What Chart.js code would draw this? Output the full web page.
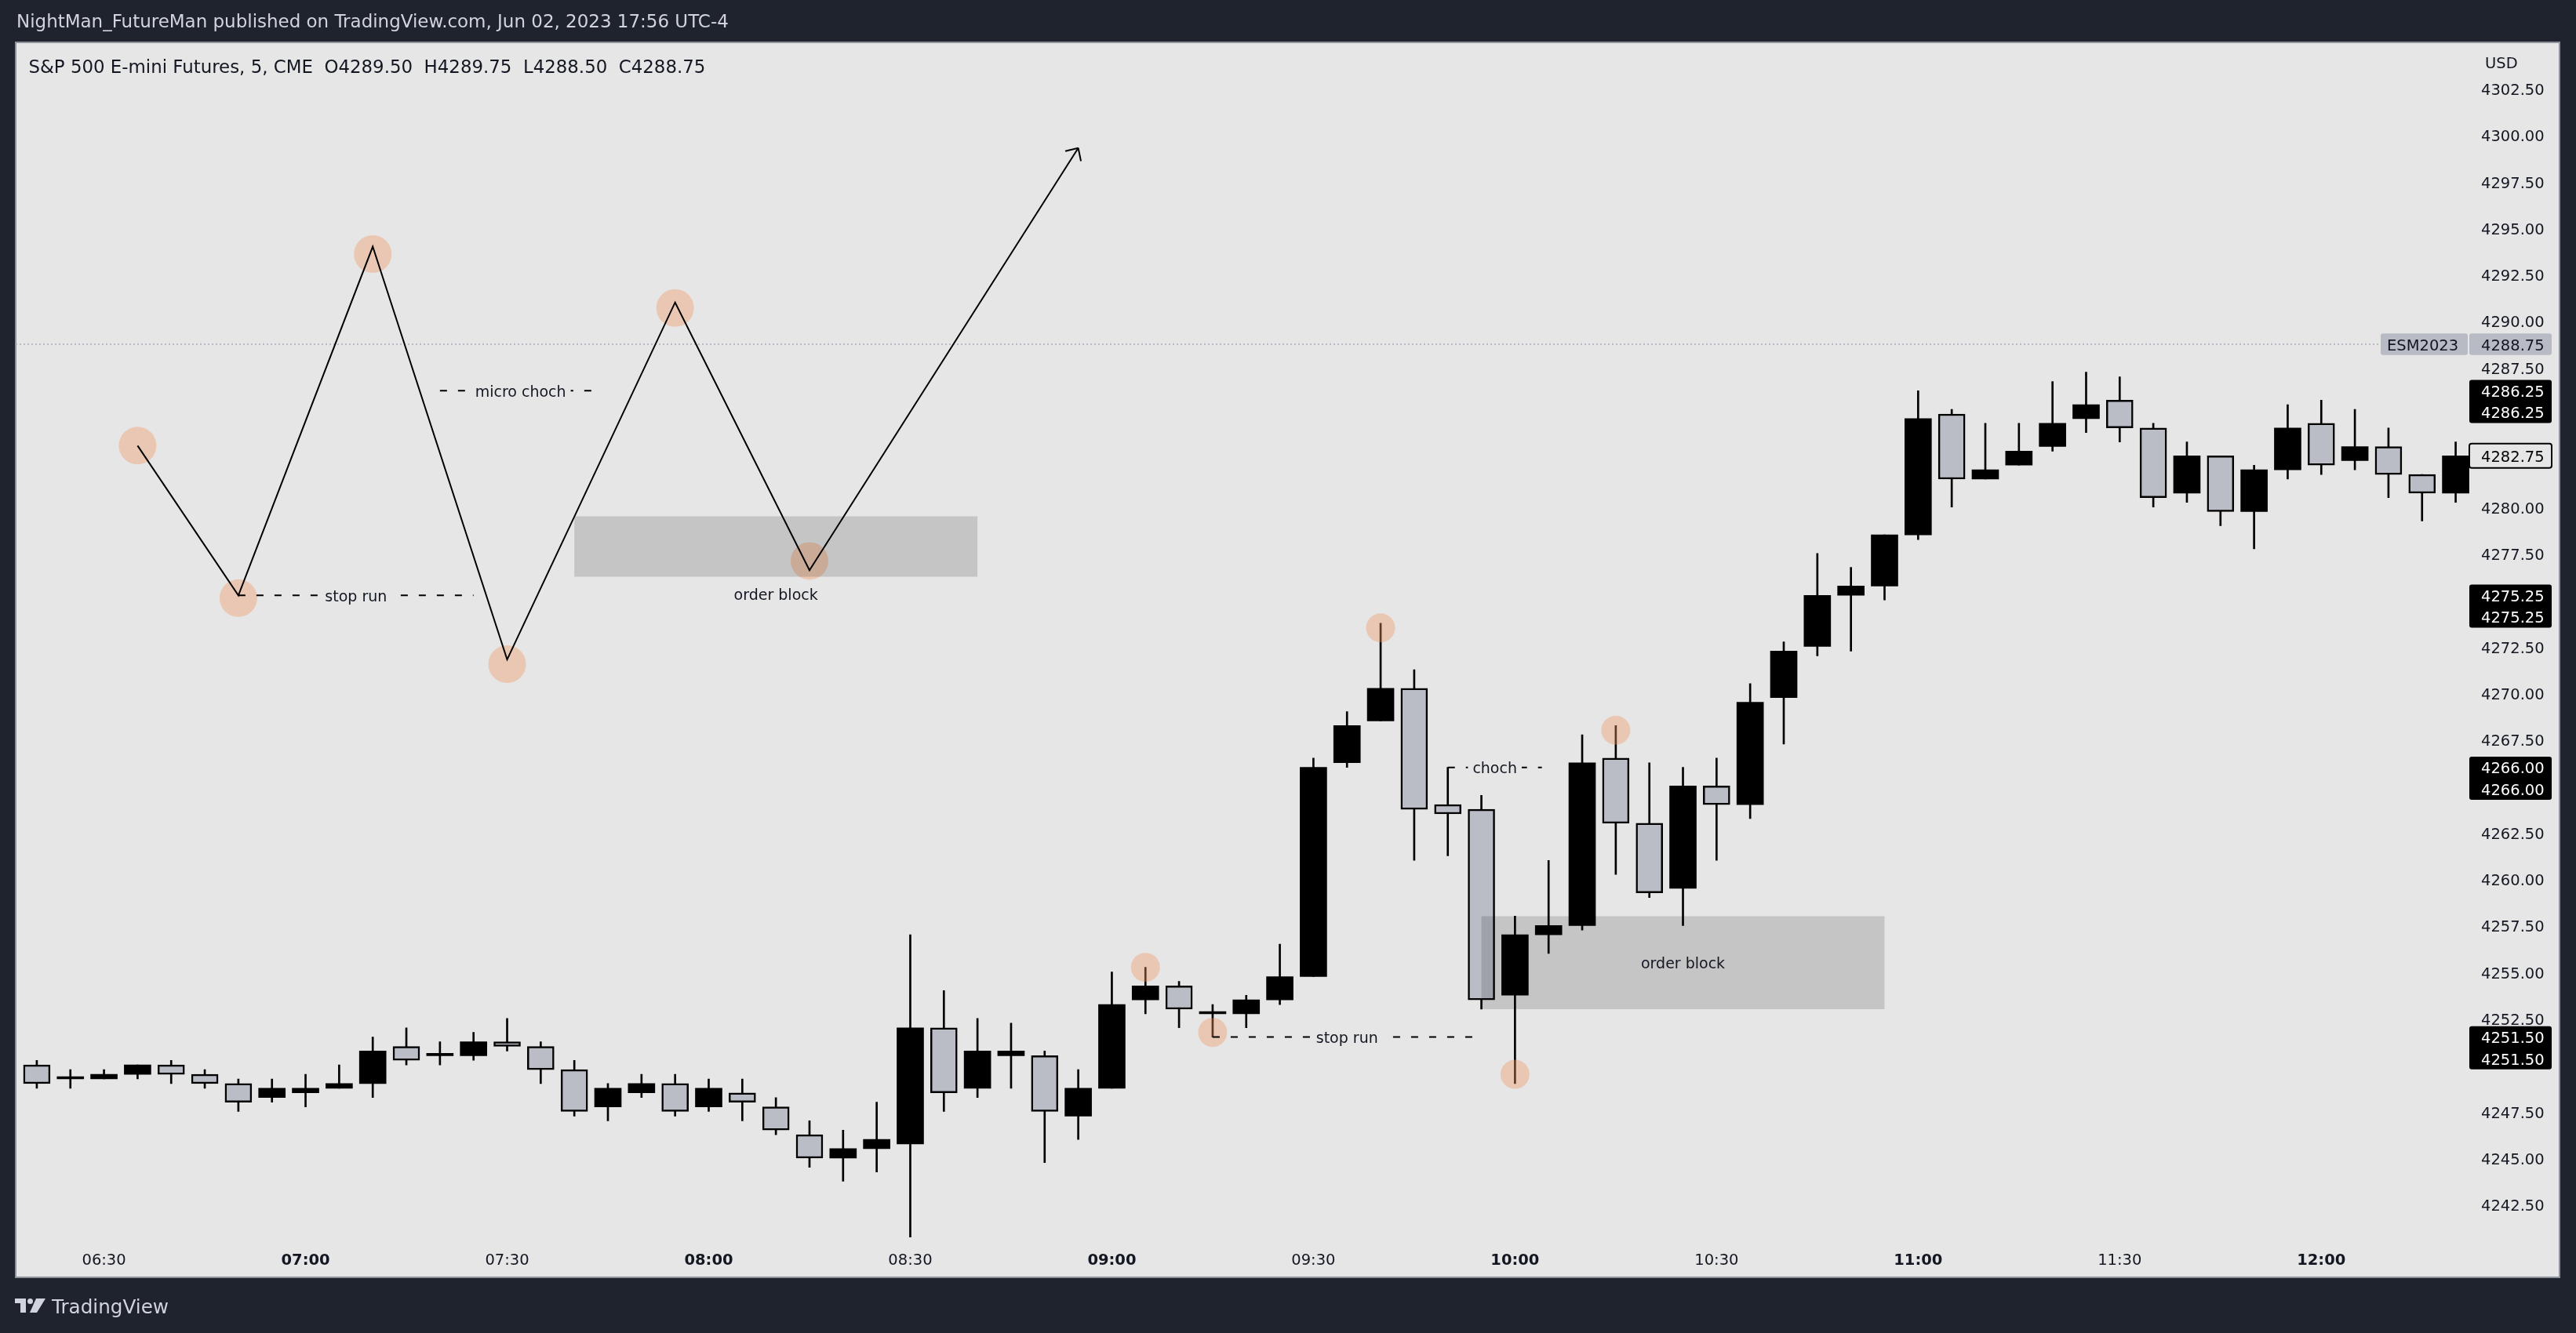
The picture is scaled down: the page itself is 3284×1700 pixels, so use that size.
<!DOCTYPE html>
<html>
<head>
<meta charset="utf-8">
<title>ES 5m - order block</title>
<script src="https://cdn.jsdelivr.net/npm/chart.js@4.4.0/dist/chart.umd.min.js"></script>
<style>
  html, body { margin: 0; padding: 0; background: #1f232e; }
  canvas { display: block; }
</style>
</head>
<body>
<canvas id="chart" width="3284" height="1700"></canvas>
<script>
// 5 minute bars, 06:20 - 12:20
const times = [
  "06:20", "06:25", "06:30", "06:35", "06:40", "06:45", "06:50", "06:55",
  "07:00", "07:05", "07:10", "07:15", "07:20", "07:25", "07:30", "07:35", "07:40", "07:45", "07:50", "07:55",
  "08:00", "08:05", "08:10", "08:15", "08:20", "08:25", "08:30", "08:35", "08:40", "08:45", "08:50", "08:55",
  "09:00", "09:05", "09:10", "09:15", "09:20", "09:25", "09:30", "09:35", "09:40", "09:45", "09:50", "09:55",
  "10:00", "10:05", "10:10", "10:15", "10:20", "10:25", "10:30", "10:35", "10:40", "10:45", "10:50", "10:55",
  "11:00", "11:05", "11:10", "11:15", "11:20", "11:25", "11:30", "11:35", "11:40", "11:45", "11:50", "11:55",
  "12:00", "12:05", "12:10", "12:15", "12:20"
];

const open = [
  4250.00, 4249.25, 4249.25, 4249.50, 4250.00, 4249.50, 4249.00, 4248.25,
  4248.50, 4248.75, 4249.00, 4251.00, 4250.50, 4250.50, 4251.25, 4251.00, 4249.75, 4247.75, 4248.50, 4249.00,
  4247.75, 4248.50, 4247.75, 4246.25, 4245.00, 4245.50, 4245.75, 4252.00, 4248.75, 4250.50, 4250.50, 4247.25,
  4248.75, 4253.50, 4254.25, 4252.75, 4252.75, 4253.50, 4254.75, 4266.25, 4268.50, 4270.25, 4264.00, 4263.75,
  4253.75, 4257.00, 4257.50, 4266.50, 4263.00, 4259.50, 4265.00, 4264.00, 4269.75, 4272.50, 4275.25, 4275.75,
  4278.50, 4285.00, 4281.50, 4282.25, 4283.25, 4284.75, 4285.75, 4284.25, 4280.75, 4282.75, 4279.75, 4282.00,
  4284.50, 4282.50, 4283.25, 4281.75, 4280.75
];
const high = [
  4250.25, 4249.75, 4249.75, 4250.00, 4250.25, 4249.75, 4249.25, 4249.25,
  4249.50, 4250.00, 4251.50, 4252.00, 4251.25, 4251.75, 4252.50, 4251.25, 4250.25, 4249.00, 4249.50, 4249.50,
  4249.25, 4249.25, 4248.25, 4247.00, 4246.50, 4248.00, 4257.00, 4254.00, 4252.50, 4252.25, 4250.75, 4249.75,
  4255.00, 4255.25, 4254.50, 4253.25, 4253.75, 4256.50, 4266.50, 4269.00, 4273.75, 4271.25, 4266.00, 4264.50,
  4258.00, 4261.00, 4267.75, 4268.25, 4266.25, 4266.00, 4266.50, 4270.50, 4272.75, 4277.50, 4276.75, 4278.50,
  4286.25, 4285.25, 4284.50, 4284.50, 4286.75, 4287.25, 4287.00, 4284.50, 4283.50, 4282.75, 4282.25, 4285.50,
  4285.75, 4285.25, 4284.25, 4281.75, 4283.50
];
const low = [
  4248.75, 4248.75, 4249.25, 4249.25, 4249.00, 4248.75, 4247.50, 4248.00,
  4247.75, 4248.75, 4248.25, 4250.00, 4250.00, 4250.25, 4250.75, 4249.00, 4247.25, 4247.00, 4248.25, 4247.25,
  4247.50, 4247.00, 4246.25, 4244.50, 4243.75, 4244.25, 4240.75, 4247.50, 4248.25, 4248.75, 4244.75, 4246.00,
  4248.75, 4252.75, 4252.00, 4251.50, 4252.00, 4253.25, 4254.75, 4266.00, 4268.50, 4261.00, 4261.25, 4253.00,
  4249.00, 4256.00, 4257.25, 4260.25, 4259.00, 4257.50, 4261.00, 4263.25, 4267.25, 4272.00, 4272.25, 4275.00,
  4278.25, 4280.00, 4281.50, 4282.25, 4283.00, 4284.00, 4283.50, 4280.00, 4280.25, 4279.00, 4277.75, 4281.50,
  4281.75, 4282.00, 4280.50, 4279.25, 4280.25
];
const close = [
  4249.00, 4249.25, 4249.50, 4250.00, 4249.50, 4249.00, 4248.00, 4248.75,
  4248.75, 4249.00, 4250.75, 4250.25, 4250.50, 4251.25, 4251.00, 4249.75, 4247.50, 4248.75, 4249.00, 4247.50,
  4248.75, 4248.00, 4246.50, 4245.00, 4245.50, 4246.00, 4252.00, 4248.50, 4250.75, 4250.75, 4247.50, 4248.75,
  4253.25, 4254.25, 4253.00, 4252.75, 4253.50, 4254.75, 4266.00, 4268.25, 4270.25, 4263.75, 4263.50, 4253.50,
  4257.00, 4257.50, 4266.25, 4263.00, 4259.25, 4265.00, 4264.00, 4269.50, 4272.25, 4275.25, 4275.75, 4278.50,
  4284.75, 4281.50, 4282.00, 4283.00, 4284.50, 4285.50, 4284.25, 4280.50, 4282.75, 4279.75, 4282.00, 4284.25,
  4282.25, 4283.25, 4281.75, 4280.75, 4282.75
];

// hand drawn swing sketch (top left)
const swingTimes = ["06:35", "06:50", "07:10", "07:30", "07:55", "08:15", "08:55"];
const swingPrices = [4283.3, 4275.25, 4294.0, 4271.8, 4291.0, 4276.6, 4299.3];
const swingMarkPrices = [4283.3, 4275.1, 4293.6, 4271.55, 4290.7, 4277.1];

// highlighted highs / lows on the candles
const pivotTimes = ["09:05", "09:15", "09:40", "10:00", "10:15"];
const pivotPrices = [4255.25, 4251.75, 4273.5, 4249.5, 4268.0];

// labelled horizontal levels
const levelText = ["micro choch", "stop run", "choch", "stop run"];
const levelFrom = ["07:20", "06:50", "09:50", "09:15"];
const levelTo = ["07:44", "07:25", "10:04", "09:55"];
const levelPrice = [4286.25, 4275.25, 4266.00, 4251.50];

// order blocks
const blockFrom = ["07:40", "09:55"];
const blockTo = ["08:40", "10:55"];
const blockLow = [4276.25, 4253.0];
const blockHigh = [4279.5, 4258.0];

const lastPrice = 4282.75;
const quotePrice = 4288.75;
const yMin = 4240.565;
const yMax = 4304.983;

const FONT = '"DejaVu Sans", sans-serif';
const INK = "#131722";
const NUDGE = 2.5; // DejaVu sits a little high with baseline "middle"

function toMinutes(t) {
  const [h, m] = t.split(":").map(Number);
  return h * 60 + m;
}
function barPos(t) {
  return (toMinutes(t) - toMinutes(times[0])) / 5;
}

function fitFont(ctx, text, width, weight) {
  ctx.font = `${weight || ""} 100px ${FONT}`;
  const w = ctx.measureText(text).width;
  return `${weight || ""} ${(100 * width / w).toFixed(2)}px ${FONT}`;
}

// dashed line with the text sitting in a gap in the middle
function dashedLevel(ctx, x1, x2, y, text) {
  ctx.font = `19px ${FONT}`;
  const tw = ctx.measureText(text).width;
  const cx = (x1 + x2) / 2;
  const gap = 6;
  ctx.save();
  ctx.beginPath();
  ctx.rect(x1 - 5, y - 20, x2 - x1 + 10, 40);
  ctx.rect(cx + tw / 2 + gap, y - 15, -(tw + 2 * gap), 30);
  ctx.clip("evenodd");
  ctx.strokeStyle = "#000";
  ctx.lineWidth = 2;
  ctx.setLineDash([9, 14]);
  ctx.beginPath();
  ctx.moveTo(x1, y);
  ctx.lineTo(x2, y);
  ctx.stroke();
  ctx.restore();
  ctx.fillStyle = INK;
  ctx.textAlign = "center";
  ctx.textBaseline = "middle";
  ctx.fillText(text, cx, y + NUDGE);
}

function tagBox(ctx, x, y, w, h, fill, stroke) {
  ctx.beginPath();
  ctx.roundRect(x, y, w, h, 3);
  if (fill) {
    ctx.fillStyle = fill;
    ctx.fill();
  }
  if (stroke) {
    ctx.strokeStyle = stroke;
    ctx.lineWidth = 2;
    ctx.stroke();
  }
}

const chartChrome = {
  id: "chartChrome",
  beforeDraw(chart) {
    const { ctx, width, height, chartArea } = chart;
    const y = chart.scales.y;
    const x = chart.scales.x;
    ctx.save();
    ctx.fillStyle = "#1f232e";
    ctx.fillRect(0, 0, width, height);
    ctx.fillStyle = "#e6e6e6";
    ctx.fillRect(20, chartArea.top, y.right - 20, x.bottom - chartArea.top);
    ctx.strokeStyle = "#8e929b";
    ctx.lineWidth = 2;
    ctx.strokeRect(20, chartArea.top, y.right - 20, x.bottom - chartArea.top);
    ctx.restore();
  },
  beforeDatasetsDraw(chart) {
    const { ctx } = chart;
    const py = chart.scales.y.getPixelForValue(quotePrice);
    ctx.save();
    ctx.strokeStyle = "#a9adb8";
    ctx.lineWidth = 1.5;
    ctx.setLineDash([2, 3]);
    ctx.beginPath();
    ctx.moveTo(20, py);
    ctx.lineTo(chart.scales.y.left - 117, py);
    ctx.stroke();
    ctx.restore();
  },
  afterDatasetsDraw(chart) {
    const { ctx } = chart;
    const xs = chart.scales.x;
    const ys = chart.scales.y;
    ctx.save();

    // order blocks
    blockFrom.forEach((t, i) => {
      const x1 = xs.getPixelForValue(barPos(t));
      const x2 = xs.getPixelForValue(barPos(blockTo[i]));
      const y1 = ys.getPixelForValue(blockHigh[i]);
      const y2 = ys.getPixelForValue(blockLow[i]);
      ctx.fillStyle = "rgba(0, 0, 0, 0.14)";
      ctx.fillRect(x1, y1, x2 - x1, y2 - y1);
      ctx.fillStyle = INK;
      ctx.font = `19px ${FONT}`;
      ctx.textAlign = "center";
      ctx.textBaseline = "middle";
      const ty = i === 0 ? y2 + 22 : (y1 + y2) / 2;
      ctx.fillText("order block", (x1 + x2) / 2, ty + NUDGE);
    });

    // labelled levels
    levelText.forEach((text, i) => {
      dashedLevel(ctx,
        xs.getPixelForValue(barPos(levelFrom[i])),
        xs.getPixelForValue(barPos(levelTo[i])),
        ys.getPixelForValue(levelPrice[i]), text);
    });

    // arrow head at the end of the swing sketch
    const pts = chart.getDatasetMeta(0).data;
    const tip = pts[pts.length - 1];
    const prev = pts[pts.length - 2];
    const back = Math.atan2(prev.y - tip.y, prev.x - tip.x);
    ctx.strokeStyle = "#000";
    ctx.lineWidth = 2;
    ctx.beginPath();
    [-0.77, 0.77].forEach(a => {
      ctx.moveTo(tip.x, tip.y);
      ctx.lineTo(tip.x + 17 * Math.cos(back + a), tip.y + 17 * Math.sin(back + a));
    });
    ctx.stroke();
    ctx.restore();
  },
  afterDraw(chart) {
    const { ctx } = chart;
    const ys = chart.scales.y;
    const tx = ys.left + 11;
    const bx = ys.left - 4;
    ctx.save();
    ctx.font = `19.5px ${FONT}`;
    ctx.textAlign = "left";
    ctx.textBaseline = "middle";

    // price tags of the drawn levels (start + end price each)
    levelPrice.forEach(p => {
      const y = ys.getPixelForValue(p);
      tagBox(ctx, bx, y - 13.75, 105, 55, "#000");
      ctx.fillStyle = "#fff";
      ctx.fillText(p.toFixed(2), tx, y + NUDGE);
      ctx.fillText(p.toFixed(2), tx, y + 27.5 + NUDGE);
    });

    // last bar close
    let y = ys.getPixelForValue(lastPrice);
    tagBox(ctx, bx, y - 15.5, 105, 31, null, "#000");
    ctx.fillStyle = "#000";
    ctx.fillText(lastPrice.toFixed(2), tx, y + NUDGE);

    // current quote
    y = ys.getPixelForValue(quotePrice);
    tagBox(ctx, bx, y - 13.75, 105, 27.5, "#b8bbc4");
    tagBox(ctx, bx - 113, y - 13.75, 111, 27.5, "#b8bbc4");
    ctx.fillStyle = INK;
    ctx.fillText(quotePrice.toFixed(2), tx, y + NUDGE);
    ctx.fillText("ESM2023", bx - 105, y + NUDGE);

    ctx.fillText("USD", 3168, 79 + NUDGE);

    // header + legend
    const head = "NightMan_FutureMan published on TradingView.com, Jun 02, 2023 17:56 UTC-4";
    ctx.font = fitFont(ctx, head, 908);
    ctx.fillStyle = "#d1d4dc";
    ctx.fillText(head, 21, 27 + NUDGE);
    const legend = "S&P 500 E-mini Futures, 5, CME  O4289.50  H4289.75  L4288.50  C4288.75";
    ctx.font = fitFont(ctx, legend, 863);
    ctx.fillStyle = INK;
    ctx.fillText(legend, 36.5, 84 + NUDGE + 1);

    // footer logo
    ctx.fillStyle = "#d1d4dc";
    ctx.fillRect(19, 1656, 14, 6);
    ctx.fillRect(26, 1656, 7, 18);
    ctx.beginPath();
    ctx.arc(38.5, 1659.5, 3.5, 0, Math.PI * 2);
    ctx.fill();
    ctx.beginPath();
    ctx.moveTo(46, 1656);
    ctx.lineTo(58, 1656);
    ctx.lineTo(47, 1674);
    ctx.lineTo(38, 1674);
    ctx.closePath();
    ctx.fill();
    ctx.font = fitFont(ctx, "TradingView", 149);
    ctx.fillText("TradingView", 66, 1665 + NUDGE + 1);
    ctx.restore();
  }
};

const ctx = document.getElementById("chart").getContext("2d");
const chart = new Chart(ctx, {
  type: "bar",
  data: {
    labels: times,
    datasets: [
      {
        type: "line",
        label: "swing",
        data: swingTimes.map((t, i) => ({ x: t, y: swingPrices[i] })),
        borderColor: "#000",
        borderWidth: 2,
        pointRadius: 0,
        tension: 0,
        order: 0,
      },
      {
        type: "line",
        label: "swing marks",
        data: swingTimes.slice(0, swingMarkPrices.length).map((t, i) => ({ x: t, y: swingMarkPrices[i] })),
        showLine: false,
        pointRadius: 24,
        pointBorderWidth: 0,
        pointBackgroundColor: "rgba(242, 150, 95, 0.38)",
        order: 0,
      },
      {
        type: "line",
        label: "pivots",
        data: pivotTimes.map((t, i) => ({ x: t, y: pivotPrices[i] })),
        showLine: false,
        pointRadius: 18.5,
        pointBorderWidth: 0,
        pointBackgroundColor: "rgba(242, 150, 95, 0.38)",
        order: 0,
      },
      {
        label: "body",
        data: open.map((o, i) => [o, close[i]]),
        backgroundColor: open.map((o, i) => (close[i] >= o ? "#000000" : "#babdc6")),
        borderColor: "#000000",
        borderWidth: open.map((o, i) => (close[i] >= o ? 0 : 2.5)),
        borderSkipped: false,
        barThickness: 34,
        minBarLength: 3,
        grouped: false,
        order: 1,
      },
      {
        label: "wick",
        data: low.map((l, i) => [l, high[i]]),
        backgroundColor: "#000000",
        barThickness: 2,
        grouped: false,
        order: 2,
      },
    ],
  },
  options: {
    responsive: false,
    devicePixelRatio: 1,
    animation: false,
    events: [],
    layout: {
      padding: { left: 25.5, right: 21, top: 54, bottom: 71 },
    },
    scales: {
      x: {
        type: "category",
        offset: true,
        grid: { display: false, drawTicks: false },
        border: { display: false },
        ticks: {
          autoSkip: false,
          maxRotation: 0,
          padding: 14,
          color: INK,
          font: (c) => ({
            family: FONT,
            size: 19.5,
            weight: times[c.index] && times[c.index].endsWith(":00") ? "bold" : "normal",
          }),
          callback: function (value, index) {
            const t = times[index];
            return t.endsWith(":00") || t.endsWith(":30") ? t : "";
          },
        },
        afterFit: (scale) => {
          scale.height = 47;
        },
      },
      y: {
        position: "right",
        min: yMin,
        max: yMax,
        grid: { display: false, drawTicks: false },
        border: { display: false },
        ticks: {
          stepSize: 2.5,
          includeBounds: false,
          padding: 11,
          labelOffset: 3,
          color: INK,
          font: { family: FONT, size: 19.5 },
          callback: function (value) {
            const covered =
              levelPrice.some((p) => value > p - 2.2 && value < p + 0.9) ||
              Math.abs(value - lastPrice) < 1 ||
              Math.abs(value - quotePrice) < 0.9;
            return covered ? "" : value.toFixed(2);
          },
        },
        afterFit: (scale) => {
          scale.width = 111;
        },
      },
    },
    plugins: {
      legend: { display: false },
      tooltip: { enabled: false },
    },
  },
  plugins: [chartChrome],
});
</script>
</body>
</html>
